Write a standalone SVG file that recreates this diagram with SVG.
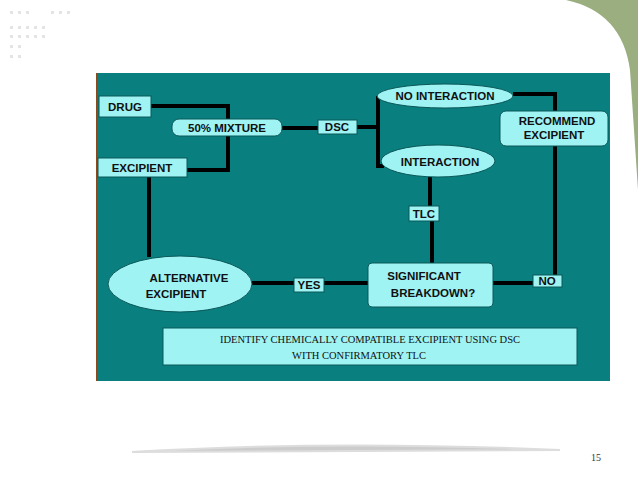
<svg xmlns="http://www.w3.org/2000/svg" width="638" height="478" viewBox="0 0 638 478">
<style>
.n{fill:#9ff3f3;stroke:#0b5858;stroke-width:1}
.t{font-family:"Liberation Sans",Arial,sans-serif;font-weight:bold;font-size:11.5px;fill:#111;text-anchor:middle}
.c{font-family:"Liberation Serif","Times New Roman",serif;font-size:10.5px;fill:#111;text-anchor:middle}
.l{stroke:#000;stroke-width:4;fill:none}
.d{fill:#e4e4e4}
</style>
<rect width="638" height="478" fill="#fff"/>
<g id="decor">
<path d="M566,0 Q622,12 630,70 L638,190 L638,0 Z" fill="#9aae7f"/>
<path d="M132,452 Q330,440 560,450 Q330,452 132,452 Z" fill="#ccc" stroke="#ddd" stroke-width="2"/>
<g class="d">
<rect x="10" y="11" width="3" height="3"/><rect x="18" y="11" width="3" height="3"/><rect x="26" y="11" width="3" height="3"/>
<rect x="51" y="11" width="3" height="3"/><rect x="59" y="11" width="3" height="3"/><rect x="67" y="11" width="3" height="3"/>
<rect x="10" y="26" width="3" height="3"/><rect x="18" y="26" width="3" height="3"/><rect x="26" y="26" width="3" height="3"/><rect x="34" y="26" width="3" height="3"/><rect x="42" y="26" width="3" height="3"/>
<rect x="10" y="35" width="3" height="3"/><rect x="18" y="35" width="3" height="3"/><rect x="26" y="35" width="3" height="3"/><rect x="34" y="35" width="3" height="3"/><rect x="42" y="35" width="3" height="3"/>
<rect x="10" y="45" width="3" height="3"/><rect x="18" y="45" width="3" height="3"/>
<rect x="10" y="55" width="3" height="3"/><rect x="18" y="55" width="3" height="3"/>
</g>
<text x="596" y="461" font-family="Liberation Serif,serif" font-size="10" fill="#333" text-anchor="middle">15</text>
</g>
<rect x="96" y="73" width="514" height="308" fill="#0a7f7f"/>
<rect x="96" y="73" width="1.5" height="308" fill="#8a4a20"/>
<g id="connectors">
<polyline class="l" points="151,106 228,106 228,119"/>
<polyline class="l" points="228,136 228,170 187,170"/>
<line class="l" x1="282" y1="128" x2="318" y2="128"/>
<line class="l" x1="357" y1="127" x2="378" y2="127"/>
<polyline class="l" points="380,98 378,98 378,166 384,166"/>
<polyline class="l" points="513,94 555,94 555,111"/>
<line class="l" x1="555" y1="146" x2="555" y2="275"/>
<line class="l" x1="493" y1="283" x2="533" y2="283"/>
<line class="l" x1="430" y1="177" x2="430" y2="206"/>
<line class="l" x1="432" y1="221" x2="432" y2="263"/>
<line class="l" x1="368" y1="283" x2="324" y2="283"/>
<line class="l" x1="294" y1="283" x2="252" y2="283"/>
<line class="l" x1="149" y1="177" x2="149" y2="257"/>
</g>
<g id="drug"><rect class="n" x="99" y="96" width="52" height="21"/><text class="t" x="125" y="111">DRUG</text></g>
<g id="mixture"><rect class="n" x="172" y="119" width="110" height="17" rx="7"/><text class="t" x="227" y="132">50% MIXTURE</text></g>
<g id="excipient"><rect class="n" x="98" y="158" width="89" height="19"/><text class="t" x="142" y="172">EXCIPIENT</text></g>
<g id="dsc"><rect class="n" x="318" y="120" width="39" height="14"/><text class="t" x="337" y="131">DSC</text></g>
<g id="nointeraction"><ellipse class="n" cx="445" cy="96" rx="68" ry="12"/><text class="t" x="445" y="100">NO INTERACTION</text></g>
<g id="interaction"><ellipse class="n" cx="438" cy="161" rx="57" ry="16"/><text class="t" x="440" y="166">INTERACTION</text></g>
<g id="recommend"><rect class="n" x="500" y="111" width="108" height="35" rx="6"/><text class="t" x="557" y="125">RECOMMEND</text><text class="t" x="554" y="139">EXCIPIENT</text></g>
<g id="tlc"><rect class="n" x="409" y="206" width="30" height="15"/><text class="t" x="424" y="218">TLC</text></g>
<g id="alternative"><ellipse class="n" cx="180" cy="284" rx="72" ry="28"/><text class="t" x="189" y="282">ALTERNATIVE</text><text class="t" x="176" y="298">EXCIPIENT</text></g>
<g id="yes"><rect class="n" x="294" y="278" width="30" height="14"/><text class="t" x="309" y="289">YES</text></g>
<g id="breakdown"><rect class="n" x="368" y="263" width="125" height="44" rx="4"/><text class="t" x="424" y="280" >SIGNIFICANT</text><text class="t" x="433" y="297">BREAKDOWN?</text></g>
<g id="no"><rect class="n" x="533" y="275" width="29" height="12"/><text class="t" x="547" y="285">NO</text></g>
<g id="caption"><rect class="n" x="163" y="328" width="414" height="37"/><text class="c" x="370" y="343">IDENTIFY CHEMICALLY COMPATIBLE EXCIPIENT USING DSC</text><text class="c" x="359" y="359">WITH CONFIRMATORY TLC</text></g>
</svg>
